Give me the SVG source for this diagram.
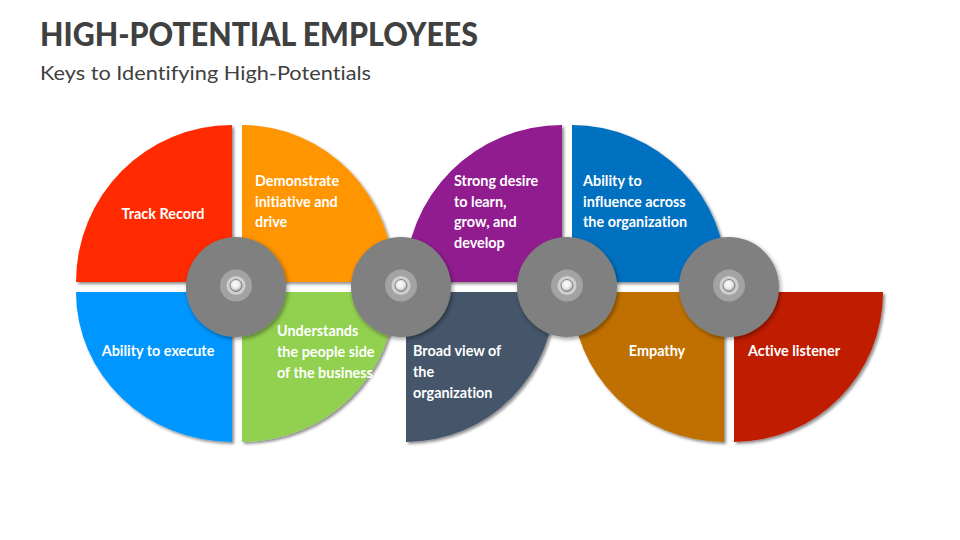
<svg xmlns="http://www.w3.org/2000/svg" width="960" height="540" viewBox="0 0 960 540">
  <defs>
    <filter id="sh" x="-10%" y="-10%" width="130%" height="130%">
      <feDropShadow dx="2" dy="2" stdDeviation="1.8" flood-color="#000" flood-opacity="0.45"/>
    </filter>
    <filter id="dsh" x="-20%" y="-20%" width="150%" height="150%">
      <feDropShadow dx="1.5" dy="2" stdDeviation="2" flood-color="#000" flood-opacity="0.4"/>
    </filter>
    <radialGradient id="hub" cx="0.45" cy="0.4" r="0.6">
      <stop offset="0" stop-color="#ffffff"/>
      <stop offset="0.6" stop-color="#e6e6e6"/>
      <stop offset="1" stop-color="#9a9a9a"/>
    </radialGradient>
    <g id="disc">
      <circle r="50" fill="#808080" filter="url(#dsh)"/>
      <circle cy="-1.5" r="16" fill="#a3a3a3"/>
      <circle cy="-1.5" r="9.5" fill="#cfcfcf"/>
      <circle cy="-1.5" r="6" fill="url(#hub)" stroke="#6e6e6e" stroke-width="0.8"/>
    </g>
  </defs>
  <style>
    text { font-variant-ligatures: none; }
    .q { filter: url(#sh); }
    .lbl { font-family: Lato, "Liberation Sans", Arial, sans-serif; font-size: 14.4px; font-weight: bold; fill: #ffffff; }
    .c { text-anchor: middle; }
    .title { font-family: Lato, "Liberation Sans", Arial, sans-serif; font-weight: 900; font-size: 32px; fill: #404040; }
    .sub { font-family: Lato, "Liberation Sans", Arial, sans-serif; font-size: 20px; fill: #404040; }
  </style>
  <rect width="960" height="540" fill="#ffffff"/>
  <text class="title" x="40" y="46" textLength="438" lengthAdjust="spacingAndGlyphs">HIGH-POTENTIAL EMPLOYEES</text>
  <text class="sub" x="40" y="80" textLength="331" lengthAdjust="spacingAndGlyphs">Keys to Identifying High-Potentials</text>

  <g id="track-record">
    <path class="q" d="M232,282 H76 A156,157 0 0 1 232,125 Z" fill="#FF2A00"/>
    <text class="lbl c" x="163" y="219">Track Record</text>
  </g>
  <g id="demonstrate-initiative">
    <path class="q" d="M242,282 V125 A152,157 0 0 1 394,282 Z" fill="#FF9500"/>
    <text class="lbl" x="255" y="186">Demonstrate</text>
    <text class="lbl" x="255" y="207">initiative and</text>
    <text class="lbl" x="255" y="227">drive</text>
  </g>
  <g id="ability-to-execute">
    <path class="q" d="M232,292 V442 A156,150 0 0 1 76,292 Z" fill="#0096FF"/>
    <text class="lbl c" x="158" y="356">Ability to execute</text>
  </g>
  <g id="understands-people">
    <path class="q" d="M242,292 H395 A153,150 0 0 1 242,442 Z" fill="#92D050"/>
    <text class="lbl" x="277" y="336">Understands</text>
    <text class="lbl" x="277" y="357">the people side</text>
    <text class="lbl" x="277" y="378">of the business</text>
  </g>
  <g id="broad-view">
    <path class="q" d="M406,292 H555 A149,150 0 0 1 406,442 Z" fill="#44546A"/>
    <text class="lbl" x="413" y="356">Broad view of</text>
    <text class="lbl" x="413" y="377">the</text>
    <text class="lbl" x="413" y="398">organization</text>
  </g>
  <g id="strong-desire">
    <path class="q" d="M562,282 H405 A157,157 0 0 1 562,125 Z" fill="#911F8F"/>
    <text class="lbl" x="454" y="186">Strong desire</text>
    <text class="lbl" x="454" y="207">to learn,</text>
    <text class="lbl" x="454" y="227">grow, and</text>
    <text class="lbl" x="454" y="248">develop</text>
  </g>
  <g id="ability-to-influence">
    <path class="q" d="M572,282 V125 A155,157 0 0 1 727,282 Z" fill="#0070C0"/>
    <text class="lbl" x="583" y="186">Ability to</text>
    <text class="lbl" x="583" y="207">influence across</text>
    <text class="lbl" x="583" y="227">the organization</text>
  </g>
  <g id="empathy">
    <path class="q" d="M724,292 V442 A152,150 0 0 1 572,292 Z" fill="#BF7000"/>
    <text class="lbl c" x="657" y="356">Empathy</text>
  </g>
  <g id="active-listener">
    <path class="q" d="M734,292 H883 A149,150 0 0 1 734,442 Z" fill="#BF1F00"/>
    <text class="lbl" x="748" y="356">Active listener</text>
  </g>

  <g id="disc-1"><use href="#disc" x="236" y="287"/></g>
  <g id="disc-2"><use href="#disc" x="401" y="287"/></g>
  <g id="disc-3"><use href="#disc" x="567" y="287"/></g>
  <g id="disc-4"><use href="#disc" x="729" y="287"/></g>
</svg>
